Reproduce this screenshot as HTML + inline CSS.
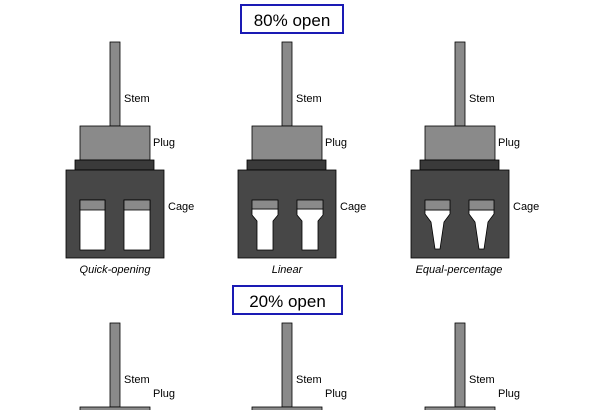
<!DOCTYPE html>
<html><head><style>body{margin:0;background:#fff}svg{display:block}</style></head><body>
<svg width="615" height="410" viewBox="0 0 615 410" xmlns="http://www.w3.org/2000/svg" font-family="Liberation Sans, sans-serif">
<defs>
<g id="v" stroke="#000" stroke-width="0.8">
<rect x="110" y="42" width="10" height="84" fill="#8a8a8a"/>
<rect x="80" y="126" width="70" height="34" fill="#8a8a8a"/>
<rect x="75" y="160" width="79" height="10" fill="#3a3a3a"/>
<rect x="66" y="170" width="98" height="88" fill="#474747"/>
</g>
</defs>
<rect x="241" y="5" width="102" height="28" fill="#fff" stroke="#1a1ab4" stroke-width="2"/>
<text x="292" y="26" font-size="17" text-anchor="middle">80% open</text>
<rect x="233" y="286" width="109" height="28" fill="#fff" stroke="#1a1ab4" stroke-width="2"/>
<text x="287.5" y="307" font-size="17" text-anchor="middle">20% open</text>
<g font-size="11">
<use href="#v"/><use href="#v" x="172"/><use href="#v" x="345"/>
<text x="124" y="102">Stem</text><text x="153" y="146">Plug</text><text x="168" y="210">Cage</text>
<text x="296" y="102">Stem</text><text x="325" y="146">Plug</text><text x="340" y="210">Cage</text>
<text x="469" y="102">Stem</text><text x="498" y="146">Plug</text><text x="513" y="210">Cage</text>
<g font-style="italic" text-anchor="middle"><text x="115" y="273">Quick-opening</text><text x="287" y="273">Linear</text><text x="459" y="273">Equal-percentage</text></g>
</g>
<g stroke="#000" stroke-width="0.8">
<rect x="80" y="200" width="25" height="50" fill="#fff"/><rect x="80" y="200" width="25" height="10" fill="#8a8a8a"/>
<rect x="124" y="200" width="26" height="50" fill="#fff"/><rect x="124" y="200" width="26" height="10" fill="#8a8a8a"/>
<path d="M252 209 H278 V215 L273 221 V250 H257 V221 L252 215Z" fill="#fff"/><rect x="252" y="200" width="26" height="9" fill="#8a8a8a"/>
<path d="M297 209 H323 V215 L318 221 V250 H302 V221 L297 215Z" fill="#fff"/><rect x="297" y="200" width="26" height="9" fill="#8a8a8a"/>
<path d="M425 210 H450 V214 L444 222 L440 249 H435 L431 222 L425 214Z" fill="#fff"/><rect x="425" y="200" width="25" height="10" fill="#8a8a8a"/>
<path d="M469 210 H494 V214 L488 222 L484 249 H479 L475 222 L469 214Z" fill="#fff"/><rect x="469" y="200" width="25" height="10" fill="#8a8a8a"/>
<rect x="110" y="323" width="10" height="84" fill="#8a8a8a"/><rect x="80" y="407" width="70" height="10" fill="#8a8a8a"/>
<rect x="282" y="323" width="10" height="84" fill="#8a8a8a"/><rect x="252" y="407" width="70" height="10" fill="#8a8a8a"/>
<rect x="455" y="323" width="10" height="84" fill="#8a8a8a"/><rect x="425" y="407" width="70" height="10" fill="#8a8a8a"/>
</g>
<g font-size="11">
<text x="124" y="383">Stem</text><text x="153" y="397">Plug</text>
<text x="296" y="383">Stem</text><text x="325" y="397">Plug</text>
<text x="469" y="383">Stem</text><text x="498" y="397">Plug</text>
</g>
</svg>
</body></html>
